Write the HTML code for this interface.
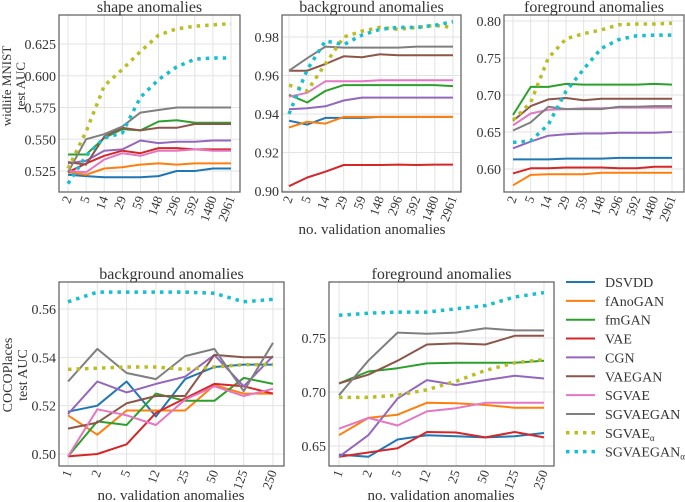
<!DOCTYPE html>
<html><head><meta charset="utf-8"><style>
body{margin:0;background:#fff}
svg{display:block;font-family:"Liberation Serif",serif;fill:#333}
</style></head><body>
<svg id="c" width="685" height="502" xmlns="http://www.w3.org/2000/svg"></svg>
<script>
const names=["DSVDD","fAnoGAN","fmGAN","VAE","CGN","VAEGAN","SGVAE","SGVAEGAN","SGVAE\u03b1","SGVAEGAN\u03b1"];
const colors=["#1f77b4","#ff7f0e","#2ca02c","#d62728","#9467bd","#8c564b","#e377c2","#7f7f7f","#bcbd22","#17becf"];
const catsTop=["2","5","14","29","59","148","296","592","1480","2961"];
const catsBot=["1","2","5","12","25","50","125","250"];
const shapeData=[
[0.522,0.521,0.520,0.520,0.520,0.521,0.525,0.525,0.527,0.527],
[0.524,0.522,0.527,0.528,0.530,0.531,0.530,0.531,0.531,0.531],
[0.538,0.538,0.551,0.558,0.557,0.564,0.565,0.563,0.563,0.563],
[0.524,0.531,0.537,0.541,0.539,0.543,0.543,0.542,0.542,0.542],
[0.531,0.533,0.541,0.542,0.549,0.547,0.548,0.548,0.549,0.549],
[0.532,0.530,0.552,0.559,0.557,0.559,0.559,0.562,0.562,0.562],
[0.525,0.524,0.534,0.539,0.537,0.541,0.541,0.542,0.541,0.541],
[0.524,0.550,0.554,0.560,0.571,0.573,0.575,0.575,0.575,0.575],
[0.527,0.556,0.592,0.605,0.619,0.632,0.637,0.639,0.640,0.641],
[0.515,0.537,0.551,0.555,0.583,0.597,0.607,0.613,0.614,0.614]];
const mnistBgData=[
[0.9365,0.9345,0.938,0.938,0.938,0.9385,0.9385,0.9385,0.9385,0.9385],
[0.933,0.936,0.935,0.9385,0.9385,0.9385,0.9385,0.9385,0.9385,0.9385],
[0.950,0.946,0.952,0.955,0.955,0.955,0.955,0.955,0.955,0.9545],
[0.9025,0.907,0.910,0.9135,0.9135,0.9135,0.9137,0.9135,0.9137,0.9137],
[0.9425,0.943,0.944,0.947,0.9485,0.9485,0.9485,0.9485,0.9485,0.9485],
[0.9625,0.9625,0.966,0.970,0.9695,0.971,0.9705,0.9705,0.9705,0.9705],
[0.949,0.951,0.957,0.957,0.957,0.9575,0.9575,0.9575,0.9575,0.9575],
[0.9625,0.969,0.975,0.9745,0.9745,0.9745,0.9745,0.975,0.975,0.975],
[0.955,0.952,0.966,0.980,0.983,0.985,0.984,0.985,0.986,0.985],
[0.940,0.963,0.978,0.976,0.981,0.984,0.985,0.985,0.986,0.988]];
const mnistFgData=[
[0.613,0.613,0.613,0.614,0.614,0.614,0.615,0.615,0.615,0.615],
[0.578,0.592,0.593,0.593,0.593,0.595,0.595,0.595,0.595,0.595],
[0.673,0.711,0.711,0.715,0.714,0.714,0.714,0.714,0.715,0.714],
[0.594,0.601,0.601,0.602,0.602,0.602,0.601,0.601,0.603,0.603],
[0.628,0.637,0.645,0.647,0.648,0.648,0.649,0.649,0.649,0.650],
[0.665,0.685,0.694,0.696,0.693,0.695,0.695,0.695,0.695,0.695],
[0.659,0.675,0.680,0.681,0.682,0.682,0.683,0.683,0.683,0.683],
[0.652,0.663,0.684,0.681,0.681,0.681,0.684,0.684,0.685,0.685],
[0.666,0.690,0.750,0.776,0.783,0.788,0.795,0.796,0.796,0.797],
[0.636,0.638,0.660,0.705,0.735,0.763,0.775,0.780,0.781,0.781]];
const cocoBgData=[
[0.5175,0.520,0.530,0.5155,0.531,0.536,0.537,0.537],
[0.516,0.508,0.518,0.518,0.518,0.5285,0.525,0.525],
[0.499,0.5135,0.512,0.525,0.522,0.522,0.5315,0.529],
[0.499,0.500,0.504,0.517,0.523,0.529,0.528,0.525],
[0.5165,0.530,0.5255,0.529,0.532,0.541,0.528,0.5405],
[0.5105,0.513,0.521,0.524,0.524,0.541,0.540,0.540],
[0.499,0.5185,0.516,0.512,0.5225,0.528,0.524,0.527],
[0.530,0.5435,0.5335,0.531,0.5405,0.5435,0.526,0.546],
[0.535,0.5355,0.536,0.536,0.535,0.536,0.537,0.537],
[0.563,0.567,0.567,0.567,0.567,0.5665,0.563,0.564]];
const cocoFgData=[
[0.642,0.640,0.656,0.660,0.659,0.658,0.659,0.662],
[0.660,0.676,0.679,0.690,0.6895,0.688,0.6855,0.6855],
[0.708,0.719,0.722,0.7265,0.727,0.727,0.727,0.729],
[0.640,0.644,0.648,0.663,0.6625,0.658,0.663,0.658],
[0.640,0.660,0.694,0.711,0.7065,0.711,0.715,0.7125],
[0.708,0.716,0.729,0.744,0.745,0.744,0.752,0.752],
[0.666,0.676,0.669,0.682,0.685,0.690,0.690,0.690],
[0.697,0.729,0.755,0.754,0.755,0.759,0.757,0.757],
[0.695,0.695,0.697,0.702,0.710,0.720,0.727,0.730],
[0.771,0.773,0.774,0.774,0.777,0.780,0.788,0.792]];
const ticksShape=[0.525,0.55,0.575,0.6,0.625], tickLabShape=["0.525","0.550","0.575","0.600","0.625"];
const ticksMBg=[0.90,0.92,0.94,0.96,0.98], tickLabMBg=["0.90","0.92","0.94","0.96","0.98"];
const ticksMFg=[0.60,0.65,0.70,0.75,0.80], tickLabMFg=["0.60","0.65","0.70","0.75","0.80"];
const ticksCBg=[0.50,0.52,0.54,0.56], tickLabCBg=["0.50","0.52","0.54","0.56"];
const ticksCFg=[0.65,0.70,0.75], tickLabCFg=["0.65","0.70","0.75"];

const svg=document.getElementById('c');
const NS="http://www.w3.org/2000/svg";
function mk(tag,attrs,parent){const e=document.createElementNS(NS,tag);for(const k in attrs)e.setAttribute(k,attrs[k]);(parent||svg).appendChild(e);return e;}

function panel(p){
  const g=mk('g',{});
  
  
  const n=p.cats.length;
  const xs=i=>p.x0+(p.x1-p.x0)*i/(n-1);
  const ys=v=>p.ya+(v-p.va)*(p.yb-p.ya)/(p.vb-p.va);
  p.ticks.forEach((t,i)=>{
    const y=ys(t);
    const l=mk('line',{x1:p.L,x2:p.R,y1:y,y2:y,stroke:'#e3e3e3','stroke-width':1},g);
    
    
    const tx=mk('text',{x:p.L-3,y:y+5,'text-anchor':'end','font-size':14},g);
    tx.textContent=p.tickLabs[i];
    
    
  });
  p.cats.forEach((c,i)=>{
    const x=xs(i);
    const l=mk('line',{x1:x,x2:x,y1:p.T,y2:p.B,stroke:'#e3e3e3','stroke-width':1},g);
    
    
    const tx=mk('text',{x:0,y:0,'text-anchor':'end','font-size':13,transform:`translate(${x+4},${p.B+6}) rotate(-70)`},g);
    tx.textContent=c;
    
    
  });
  p.data.forEach((s,k)=>{
    const pts=s.map((v,i)=>xs(i).toFixed(1)+','+ys(v).toFixed(1)).join(' ');
    const dotted=k>=8;
    const pl=mk('polyline',{points:pts,fill:'none',stroke:colors[k],'stroke-width':dotted?3.5:2,'stroke-dasharray':dotted?'3.5 5':'none','stroke-linejoin':'round'},g);
    
    
  });
  const fr=mk('rect',{x:p.L,y:p.T,width:p.R-p.L,height:p.B-p.T,fill:'none',stroke:'#666','stroke-width':1.3},g);
  
  
  const ti=mk('text',{x:(p.L+p.R)/2,y:p.T-3,'text-anchor':'middle','font-size':16},g);
  ti.textContent=p.title;
  
  
}
panel({name:'mnist-shape-panel',title:'shape anomalies',L:59,R:240,T:15,B:192,x0:68,x1:231,ya:44,va:0.625,yb:171,vb:0.525,cats:catsTop,data:shapeData,ticks:ticksShape,tickLabs:tickLabShape});
panel({name:'mnist-background-panel',title:'background anomalies',L:282,R:461,T:15,B:192,x0:289,x1:453,ya:37,va:0.98,yb:191,vb:0.90,cats:catsTop,data:mnistBgData,ticks:ticksMBg,tickLabs:tickLabMBg});
panel({name:'mnist-foreground-panel',title:'foreground anomalies',L:504,R:684,T:15,B:192,x0:513,x1:672,ya:21,va:0.80,yb:169,vb:0.60,cats:catsTop,data:mnistFgData,ticks:ticksMFg,tickLabs:tickLabMFg});
panel({name:'coco-background-panel',title:'background anomalies',L:59,R:284,T:282,B:466,x0:68,x1:273,ya:309,va:0.56,yb:454,vb:0.50,cats:catsBot,data:cocoBgData,ticks:ticksCBg,tickLabs:tickLabCBg});
panel({name:'coco-foreground-panel',title:'foreground anomalies',L:329,R:554,T:282,B:466,x0:339,x1:544,ya:338,va:0.75,yb:446,vb:0.65,cats:catsBot,data:cocoFgData,ticks:ticksCFg,tickLabs:tickLabCFg});

function label(txt,x,y,rot,name,fs){
  const t=mk('text',{x:0,y:0,'text-anchor':'middle','font-size':fs||15,transform:`translate(${x},${y}) rotate(${rot})`});
  t.textContent=txt;
  
  
}
label('widlife MNIST',11,86,-90,'y-axis-title-mnist',13);
label('test AUC',25,86,-90,'y-axis-title-mnist-2',13);
label('COCOPlaces',12,375,-90,'y-axis-title-coco',14);
label('test AUC',27,375,-90,'y-axis-title-coco-2',14);
label('no. validation anomalies',372,234,0,'x-axis-title-top');
label('no. validation anomalies',171,500,0,'x-axis-title-coco-bg');
label('no. validation anomalies',441,500,0,'x-axis-title-coco-fg');

const lg=mk('g',{});


names.forEach((nm,k)=>{
  const y=282+k*18.85;
  const dotted=k>=8;
  const l=mk('line',{x1:566,x2:595,y1:y,y2:y,stroke:colors[k],'stroke-width':dotted?3.5:2,'stroke-dasharray':dotted?'3.5 5':'none'},lg);
  
  
  const t=mk('text',{x:605,y:y+5,'font-size':14},lg);
  if(dotted){t.textContent=nm.slice(0,-1);const s=mk('tspan',{'font-size':9,dy:3},t);s.textContent='\u03b1';}
  else t.textContent=nm;
  
  
});
</script>
</body></html>
